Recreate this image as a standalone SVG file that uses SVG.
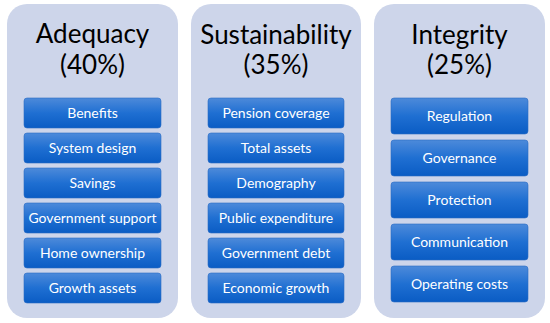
<svg xmlns="http://www.w3.org/2000/svg" width="550" height="323" viewBox="0 0 550 323">
<defs>
<linearGradient id="g" x1="0" y1="0" x2="0" y2="1">
<stop offset="0" stop-color="#4d8ada"/>
<stop offset="0.5" stop-color="#1f6fd2"/>
<stop offset="1" stop-color="#0a5cc4"/>
</linearGradient>
</defs>
<style>
.panel{fill:#cdd5ea}
.box{fill:url(#g);stroke:#2a6cc4;stroke-width:0.6}
.title{font-family:Lato,"Liberation Sans",sans-serif;font-size:26px;fill:#000;text-anchor:middle}
.lbl{font-family:Lato,"Liberation Sans",sans-serif;font-size:14px;fill:#fff;text-anchor:middle}
</style>
<rect width="550" height="323" fill="#fff"/>
<g id="adequacy">
<rect class="panel" x="7" y="4" width="171" height="314" rx="20"/>
<text class="title" x="92.5" y="43">Adequacy</text>
<text class="title" x="92.5" y="74">(40%)</text>
<g id="a1"><rect class="box" x="24" y="98" width="137" height="30" rx="3"/><text class="lbl" x="92.5" y="118">Benefits</text></g>
<g id="a2"><rect class="box" x="24" y="133" width="137" height="30" rx="3"/><text class="lbl" x="92.5" y="153">System design</text></g>
<g id="a3"><rect class="box" x="24" y="168" width="137" height="30" rx="3"/><text class="lbl" x="92.5" y="188">Savings</text></g>
<g id="a4"><rect class="box" x="24" y="203" width="137" height="30" rx="3"/><text class="lbl" x="92.5" y="223">Government support</text></g>
<g id="a5"><rect class="box" x="24" y="238" width="137" height="30" rx="3"/><text class="lbl" x="92.5" y="258">Home ownership</text></g>
<g id="a6"><rect class="box" x="24" y="273" width="137" height="30" rx="3"/><text class="lbl" x="92.5" y="293">Growth assets</text></g>
</g>
<g id="sustainability">
<rect class="panel" x="191" y="4" width="170" height="314" rx="20"/>
<text class="title" x="276" y="44">Sustainability</text>
<text class="title" x="276" y="74">(35%)</text>
<g id="s1"><rect class="box" x="208" y="98" width="136" height="30" rx="3"/><text class="lbl" x="276" y="118">Pension coverage</text></g>
<g id="s2"><rect class="box" x="208" y="133" width="136" height="30" rx="3"/><text class="lbl" x="276" y="153">Total assets</text></g>
<g id="s3"><rect class="box" x="208" y="168" width="136" height="30" rx="3"/><text class="lbl" x="276" y="188">Demography</text></g>
<g id="s4"><rect class="box" x="208" y="203" width="136" height="30" rx="3"/><text class="lbl" x="276" y="223">Public expenditure</text></g>
<g id="s5"><rect class="box" x="208" y="238" width="136" height="30" rx="3"/><text class="lbl" x="276" y="258">Government debt</text></g>
<g id="s6"><rect class="box" x="208" y="273" width="136" height="30" rx="3"/><text class="lbl" x="276" y="293">Economic growth</text></g>
</g>
<g id="integrity">
<rect class="panel" x="374" y="4" width="171" height="314" rx="20"/>
<text class="title" x="459.5" y="43.5">Integrity</text>
<text class="title" x="459.5" y="74">(25%)</text>
<g id="i1"><rect class="box" x="391" y="98" width="137" height="36" rx="3"/><text class="lbl" x="459.5" y="121">Regulation</text></g>
<g id="i2"><rect class="box" x="391" y="140" width="137" height="36" rx="3"/><text class="lbl" x="459.5" y="163">Governance</text></g>
<g id="i3"><rect class="box" x="391" y="182" width="137" height="36" rx="3"/><text class="lbl" x="459.5" y="205">Protection</text></g>
<g id="i4"><rect class="box" x="391" y="224" width="137" height="36" rx="3"/><text class="lbl" x="459.5" y="247">Communication</text></g>
<g id="i5"><rect class="box" x="391" y="266" width="137" height="36" rx="3"/><text class="lbl" x="459.5" y="289">Operating costs</text></g>
</g>
</svg>
